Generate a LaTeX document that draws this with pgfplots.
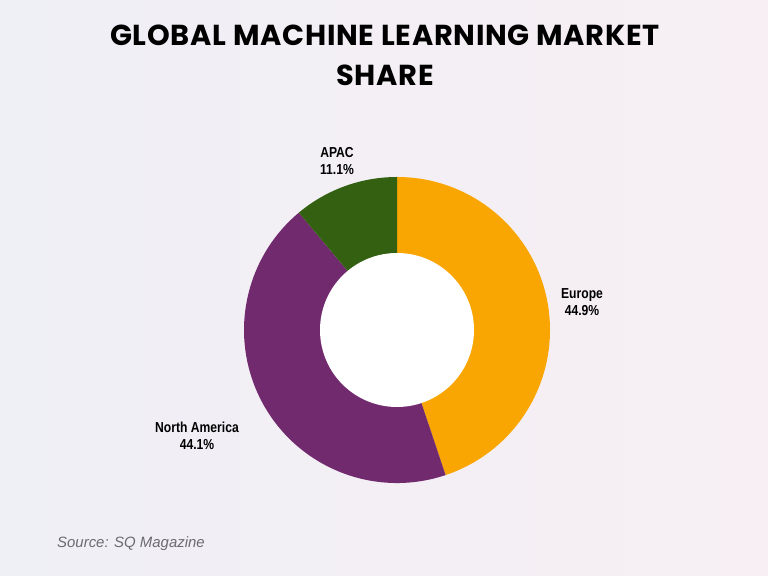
\documentclass[border=0pt]{standalone}
\usepackage{pgfplots}
\usepackage{pgfplotstable}
\pgfplotsset{compat=1.18}
\usepackage{fontspec}
\setmainfont{Liberation Sans}
\newfontfamily\titlefont[LetterSpace=2.5]{Poppins}
\newfontfamily\labfont[FakeStretch=0.84]{Liberation Sans}

\definecolor{ceurope}{HTML}{F9A602}
\definecolor{cnamerica}{HTML}{722A6F}
\definecolor{capac}{HTML}{336011}
\definecolor{bgL}{HTML}{EFEFF6}
\definecolor{bgR}{HTML}{F7EFF3}
\definecolor{srcgray}{HTML}{6A6A70}

% market share by region, clockwise from 12 o'clock
\pgfplotstableread[col sep=comma]{
region,share,colour
Europe,44.9,ceurope
North America,44.1,cnamerica
APAC,11.1,capac
}\sharetable

\begin{document}
\begin{tikzpicture}
\shade[left color=bgL, right color=bgR] (0,0) rectangle (768bp,576bp);
\begin{axis}[
  at={(0,0)}, anchor=south west,
  width=768bp, height=576bp, scale only axis,
  xmin=0, xmax=768, ymin=0, ymax=576,
  hide axis, clip=false,
]
\def\startangle{90}
\pgfplotsforeachungrouped \i in {0,1,2}{%
  \pgfplotstablegetelem{\i}{share}\of\sharetable \let\v\pgfplotsretval
  \pgfplotstablegetelem{\i}{colour}\of\sharetable \let\c\pgfplotsretval
  \pgfmathsetmacro\endangle{\startangle-360*\v/100.1}%
  \edef\temp{\noexpand\fill[\c] (axis cs:397,246) -- ++(\startangle:153bp)
    arc[start angle=\startangle, end angle=\endangle, radius=153bp] -- cycle;}%
  \temp
  \let\startangle\endangle
}
\fill[white] (axis cs:397,246) circle[radius=77bp];

\node[font=\titlefont\bfseries\fontsize{29}{32}\selectfont] at (axis cs:385,541) {GLOBAL MACHINE LEARNING MARKET};
\node[font=\titlefont\bfseries\fontsize{29}{32}\selectfont] at (axis cs:385,501) {SHARE};

\node[font=\labfont\bfseries\fontsize{14.5}{17}\selectfont, align=center] at (axis cs:337,415) {APAC\\11.1\%};
\node[font=\labfont\bfseries\fontsize{14.5}{17}\selectfont, align=center] at (axis cs:582,274) {Europe\\44.9\%};
\node[font=\labfont\bfseries\fontsize{14.5}{17}\selectfont, align=center] at (axis cs:197,140) {North America\\44.1\%};

\node[font=\itshape\fontsize{15}{18}\selectfont, text=srcgray, anchor=west, inner sep=0pt] at (axis cs:57,32) {Source: SQ Magazine};
\end{axis}
\end{tikzpicture}
\end{document}
